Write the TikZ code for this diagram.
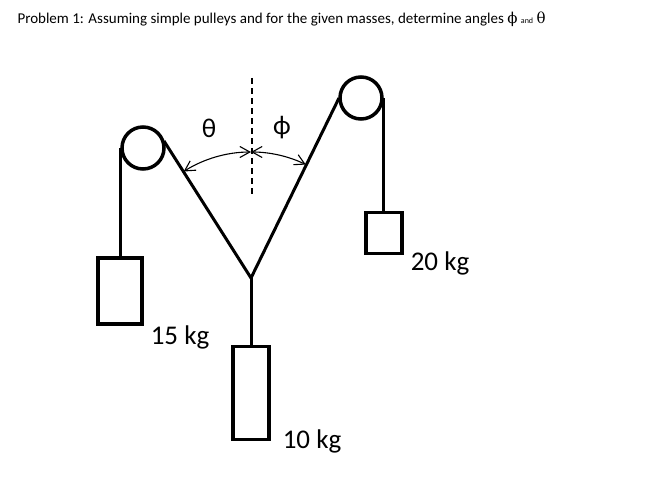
\documentclass[tikz,border=0pt]{standalone}
\usepackage{fontspec}
\setmainfont{Carlito}
\newfontfamily\symf{DejaVu Serif}
\usetikzlibrary{arrows.meta,calc}
\begin{document}
\begin{tikzpicture}[x=1pt,y=-1pt,
  rope/.style={line width=3pt},
  pulley/.style={circle,draw,line width=3.5pt,minimum size=42pt,inner sep=0pt},
  mass/.style={draw,line width=3.5pt,inner sep=0pt},
  lab/.style={font=\fontsize{27}{29}\selectfont},
  ang/.style={line width=1.1pt,{Straight Barb[length=10pt,width=11pt]}-{Straight Barb[length=10pt,width=11pt]}}]
\useasboundingbox (0,0) rectangle (664,495);
\node[anchor=west,font=\fontsize{15}{17}\selectfont] (title) at (14,19) {Problem 1: Assuming simple pulleys and for the given masses, determine angles {\symf ϕ} {\footnotesize and} {\symf θ}};
\node[pulley] (P1) at (143,148) {};
\node[pulley] (P2) at (361,98) {};
\node[mass,minimum width=44pt,minimum height=66pt] (M1) at (120,291) {};
\node[mass,minimum width=36pt,minimum height=41pt] (M2) at (384,233) {};
\node[mass,minimum width=36pt,minimum height=93pt] (M3) at (251,393) {};
\coordinate (J) at (251,278);
\coordinate (T1) at (164,141);
\coordinate (T2) at (339,98);
\draw[rope] (P1.west) -- (P1.west |- M1.north);
\draw[rope] (P2.east) -- (P2.east |- M2.north);
\draw[rope] (T1) -- (J) -- (T2);
\draw[rope] (J) -- (M3.north);
\coordinate (D1) at (252,78);
\coordinate (D2) at (252,195);
\draw[line width=1.3pt,dash pattern=on 6pt off 4pt] (D1) -- (D2);
\draw[ang] ($(J)+(-122.3:126)$) arc[start angle=-122.3,end angle=-90,radius=126];
\draw[ang] ($(J)+(-90:126)$) arc[start angle=-90,end angle=-64.2,radius=126];
\node[lab] (th) at (209,128) {θ};
\node[lab] (ph) at (282,128) {ϕ};
\node[lab] (l1) at (180,337) {15 kg};
\node[lab] (l2) at (440,263) {20 kg};
\node[lab] (l3) at (312,441) {10 kg};
\end{tikzpicture}
\end{document}
